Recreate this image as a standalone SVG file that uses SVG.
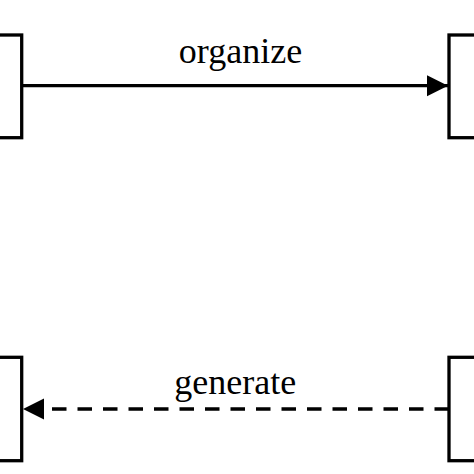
<svg xmlns="http://www.w3.org/2000/svg" width="474" height="474" viewBox="0 0 474 474">
<style>
.box{fill:#fff;stroke:#000;stroke-width:3.3}
.edge{fill:none;stroke:#000;stroke-width:3.3}
.dash{stroke-dasharray:14.5 11}
.lbl{font-family:"Liberation Serif","Times New Roman",serif;font-size:36px;fill:#000;text-anchor:middle}
</style>
<defs>
<marker id="ah" markerUnits="userSpaceOnUse" markerWidth="22" markerHeight="22" refX="21" refY="10.5" orient="auto">
<path d="M0,0 L21,10.5 L0,21 Z" fill="#000"/>
</marker>
</defs>
<rect width="474" height="474" fill="#fff"/>
<g id="node-tl"><rect class="box" x="-100" y="35" width="121.7" height="102.7"/></g>
<g id="node-tr"><rect class="box" x="449" y="35" width="150" height="102.7"/></g>
<g id="node-bl"><rect class="box" x="-100" y="357.3" width="121.7" height="103.4"/></g>
<g id="node-br"><rect class="box" x="449" y="357.3" width="150" height="103.4"/></g>
<g id="connectors">
<path class="edge" d="M21.7,85.7 H448" marker-end="url(#ah)"/>
<path class="edge dash" d="M449,409 H45"/>
<path d="M23,409 L44,398.5 L44,419.5 Z" fill="#000"/>
<text class="lbl" x="240.5" y="63.3">organize</text>
<text class="lbl" x="235.3" y="394">generate</text>
</g>
</svg>
